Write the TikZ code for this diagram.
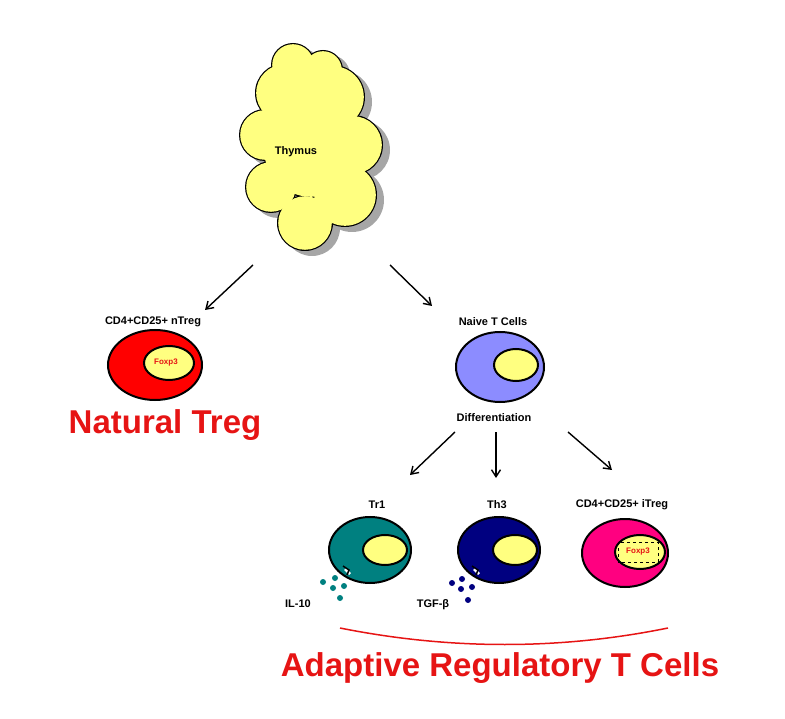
\documentclass[tikz,border=0pt]{standalone}
\usepackage{fontspec}
\setmainfont{Liberation Sans}
\usetikzlibrary{arrows.meta}
\definecolor{naive}{RGB}{140,140,255}
\definecolor{tealc}{RGB}{0,128,128}
\definecolor{navyc}{RGB}{0,0,128}
\definecolor{magc}{RGB}{255,0,128}
\definecolor{nuc}{RGB}{255,255,128}
\definecolor{redt}{RGB}{230,20,20}
\begin{document}
\begin{tikzpicture}[x=1pt,y=-1pt,
  lbl/.style={font=\bfseries\fontsize{11}{13}\selectfont},
  big/.style={font=\bfseries\fontsize{33}{36}\selectfont, text=redt},
  arr/.style={-{Straight Barb[length=7pt,width=9pt]}, line width=1.4pt},
  cellline/.style={draw=black, line width=2pt}]
\useasboundingbox (0,0) rectangle (785,719);
% Thymus cloud
\foreach \cx/\cy/\r in {292/98/30,340/102/32,360/150/30,352/200/32,312/228/28,278/192/26,272/140/26,318/155/48,300/70/22,330/75/20}{\fill[gray!70] (\cx,\cy) circle (\r);}
\begin{scope}[shift={(-7,-5)}]
\foreach \cx/\cy/\r in {292/98/30,340/102/32,360/150/30,352/200/32,312/228/28,278/192/26,272/140/26,318/155/48,300/70/22,330/75/20}{\fill[black] (\cx,\cy) circle (\r);}
\foreach \cx/\cy/\r in {292/98/28.8,340/102/30.8,360/150/28.8,352/200/30.8,312/228/26.8,278/192/24.8,272/140/24.8,318/155/46.8,300/70/20.8,330/75/18.8}{\fill[nuc] (\cx,\cy) circle (\r);}
\end{scope}
\node[lbl] (thy) at (296,152) {Thymus};
\coordinate (t1) at (253,265); \coordinate (t2) at (390,265);
\coordinate (e1) at (205,310); \coordinate (e2) at (432,306);
% nTreg
\node[lbl] (nl) at (153,322) {CD4+CD25+ nTreg};
\draw[cellline, fill=red] (155,365) ellipse (47 and 35);
\draw[cellline, fill=nuc] (169,363) ellipse (25 and 17);
\node[font=\bfseries\fontsize{8}{9}\selectfont, text=redt] (f1) at (166,363) {Foxp3};
\node[big] (nat) at (165,425) {Natural Treg};
% Naive
\node[lbl] (nv) at (493,322) {Naive T Cells};
\draw[cellline, fill=naive] (500,367) ellipse (44 and 35);
\draw[cellline, fill=nuc] (516,365) ellipse (22 and 16);
\node[lbl] (dif) at (494,418) {Differentiation};
\draw[arr] (t1) -- (e1);
\draw[arr] (t2) -- (e2);
% Tr1
\node[lbl] (tr) at (377,505) {Tr1};
\draw[cellline, fill=tealc] (370,550) ellipse (41 and 33);
\draw[white, line width=2.5pt] (345,569) -- (350,574);
\draw[black, line width=1.5pt] (343,566) -- (349,570) -- (347,575);
\draw[cellline, fill=nuc] (385,550) ellipse (22 and 15);
\foreach \p in {(323,582),(335,578),(333,588),(344,586),(340,598)} \fill[tealc] \p circle (3);
\node[lbl] (il) at (298,604) {IL-10};
% Th3
\node[lbl] (th) at (497,505) {Th3};
\draw[cellline, fill=navyc] (499,550) ellipse (41 and 33);
\draw[white, line width=2.5pt] (474,569) -- (479,574);
\draw[black, line width=1.5pt] (472,566) -- (478,570) -- (476,575);
\draw[cellline, fill=nuc] (515,550) ellipse (22 and 15);
\foreach \p in {(452,583),(462,579),(461,589),(472,587),(468,600)} \fill[navyc] \p circle (3);
\node[lbl] (tg) at (433,605) {TGF-β};
% iTreg
\node[lbl] (it) at (622,505) {CD4+CD25+ iTreg};
\draw[cellline, fill=magc] (625,553) ellipse (43 and 34);
\draw[cellline, fill=nuc] (640,552) ellipse (25 and 17);
\draw[dashed, line width=0.8pt] (618,542) rectangle (658,562);
\node[font=\bfseries\fontsize{8}{9}\selectfont, text=redt] (f2) at (638,552) {Foxp3};
\coordinate (d1) at (455,432); \coordinate (d2) at (496,432); \coordinate (d3) at (568,432);
\coordinate (g1) at (410,475); \coordinate (g2) at (496,478); \coordinate (g3) at (612,470);
\draw[arr] (d1) -- (g1);
\draw[arr] (d2) -- (g2);
\draw[arr] (d3) -- (g3);
% arc and caption
\draw[redt, line width=1.5pt] (340,628) .. controls (450,650) and (560,650) .. (668,628);
\node[big] (ad) at (500,668) {Adaptive Regulatory T Cells};
\end{tikzpicture}
\end{document}
